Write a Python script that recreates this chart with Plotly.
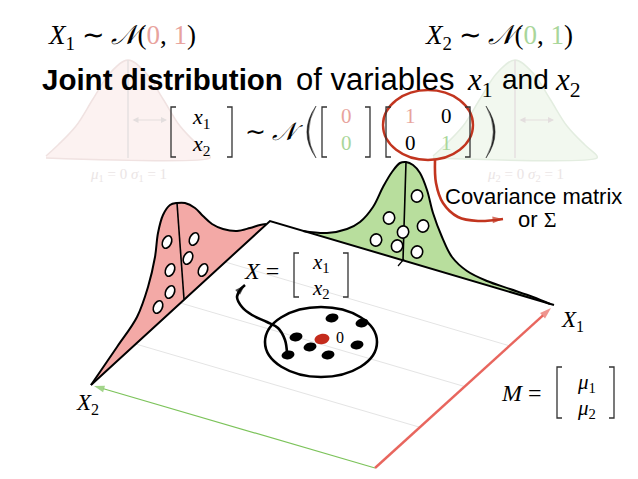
import math
import plotly.graph_objects as go

W, H = 638, 479
SERIF = "Liberation Serif"
SANS = "Liberation Sans"
PINK = "#e8a39d"
GREEN = "#a9d69a"
NB = "\u00a0"

# faded 1-D bells: offsets from centre / heights (pixels, y down)
BELL_CENTERS = [128, 515]
BELL_BASE = 158
BELL_DX = [-82, -70, -52, -35, -18, 0, 18, 35, 52, 70, 82]
BELL_Y = [156, 145, 126, 99, 73, 60, 73, 99, 126, 145, 156]
BELL_LABEL_X = [128, 525]
BELL_LABELS = ["<i>μ</i><sub>1</sub> = 0 <i>σ</i><sub>1</sub> = 1",
               "<i>μ</i><sub>2</sub> = 0 <i>σ</i><sub>2</sub> = 1"]

# floor parallelogram: X2 corner, back corner, X1 corner, front corner
FLOOR_X = [91, 270, 554, 375]
FLOOR_Y = [385, 221, 305, 468]
GRID_FRAC = [0.25, 0.5, 0.75]

# marginal of x2 (red) drawn on the left edge
RED_X = [91, 117, 137, 148, 155, 158, 163, 170, 177, 185, 195, 203, 212, 223, 237, 250, 260, 266]
RED_Y = [385, 347, 317, 287, 257, 233, 215, 205, 203, 203, 208, 216, 224, 229, 231, 228, 225, 224]
RED_MID = ([177, 184], [203, 299])
RED_PTS_X = [167, 194, 188, 170, 203, 170, 158]
RED_PTS_Y = [242, 239, 258, 270, 270, 292, 307]

# marginal of x1 (green) drawn on the back edge
GREEN_X = [303, 327, 347, 360, 373, 383, 392, 400, 406, 413, 420, 427, 433, 442, 452, 467, 487, 510, 533, 550]
GREEN_Y = [231, 233, 229, 222, 207, 187, 172, 163, 162, 165, 173, 190, 213, 237, 257, 271, 281, 289, 297, 304]
GREEN_MID = ([406, 403], [162, 260])
GREEN_PTS_X = [417, 389, 423, 403, 376, 397, 417]
GREEN_PTS_Y = [196, 218, 226, 232, 240, 246, 252]

# samples on the floor
DOT_X = [332, 362, 296, 310, 357, 288, 328]
DOT_Y = [318, 323, 337, 347, 345, 355, 355]
MEAN_DOT = (322, 339)

# curved arrows
X_ARROW_X = [287, 285, 278, 267, 252, 242, 237, 240, 245]
X_ARROW_Y = [353, 340, 328, 322, 315, 307, 297, 290, 285]
COV_ARROW_X = [435, 436, 443, 458, 478, 503]
COV_ARROW_Y = [160, 183, 203, 217, 221, 219]

MEAN = [0, 0]
COV = [[1, 0], [0, 1]]

fig = go.Figure()


def line(xs, ys, color, width, spline=False, fill=None, fillcolor=None, sizes=None):
    fig.add_trace(go.Scatter(
        x=xs, y=ys, mode="lines+markers" if sizes else "lines",
        line=dict(color=color, width=width, shape="spline" if spline else "linear"),
        fill=fill, fillcolor=fillcolor, hoverinfo="skip",
        marker=dict(symbol="arrow", size=sizes or 0, color=color, angleref="previous",
                    line=dict(width=0)),
    ))


# faded bells behind the title
bell_cols = [("#fcf2f1", "#f0e2e1"), ("#f2f8ef", "#e3ede0")]
for cx, (fc, lc) in zip(BELL_CENTERS, bell_cols):
    xs = [cx + d for d in BELL_DX]
    line(xs + [xs[-1], xs[0]], BELL_Y + [BELL_BASE, BELL_BASE], lc, 1.5,
         spline=True, fill="toself", fillcolor=fc)
    line([cx, cx], [60, BELL_BASE], "#e6e1e1", 1.5)

# floor grid
L, B, R, F = list(zip(FLOOR_X, FLOOR_Y))
for f in GRID_FRAC:
    x0 = L[0] + f * (B[0] - L[0]); y0 = L[1] + f * (B[1] - L[1])
    x1 = F[0] + f * (R[0] - F[0]); y1 = F[1] + f * (R[1] - F[1])
    line([x0, x1], [y0, y1], "#e4e4e4", 1)

# axis arrows
line([F[0], L[0] + 3], [F[1], L[1] + 1], "#7cc35a", 1.2, sizes=[0, 11])
line([F[0], R[0] - 3], [F[1], R[1] + 3], "#e8665e", 2.4, sizes=[0, 12])

# red marginal
line(RED_X, RED_Y, "black", 2, spline=True, fill="toself", fillcolor="#f3a9a6")
line(*RED_MID, "black", 1.6)

# green marginal
line(GREEN_X, GREEN_Y, "black", 2, spline=True, fill="toself", fillcolor="#b8de9d")
line([L[0], B[0], R[0]], [L[1], B[1], R[1]], "black", 2)
line(*GREEN_MID, "black", 1.6)
line([398, 404], [266, 259], "black", 1.2)

# arrows
line(X_ARROW_X, X_ARROW_Y, "black", 2.6, spline=True, sizes=[0] * 8 + [11])
line(COV_ARROW_X, COV_ARROW_Y, "#c2351f", 2.6, spline=True, sizes=[0] * 5 + [11])


def ellipse_path(cx, cy, rx, ry, deg=0.0):
    k = 0.5523
    t = math.radians(deg)
    c, s = math.cos(t), math.sin(t)

    def p(u, v):
        return "%.2f,%.2f" % (cx + u * c - v * s, cy + u * s + v * c)

    return ("M" + p(rx, 0)
            + " C" + p(rx, k * ry) + " " + p(k * rx, ry) + " " + p(0, ry)
            + " C" + p(-k * rx, ry) + " " + p(-rx, k * ry) + " " + p(-rx, 0)
            + " C" + p(-rx, -k * ry) + " " + p(-k * rx, -ry) + " " + p(0, -ry)
            + " C" + p(k * rx, -ry) + " " + p(rx, -k * ry) + " " + p(rx, 0) + " Z")


shapes = []


def ell(cx, cy, rx, ry, deg, fill, lc, lw):
    shapes.append(dict(type="path", xref="x", yref="y", path=ellipse_path(cx, cy, rx, ry, deg),
                       fillcolor=fill, line=dict(color=lc, width=lw)))


for x, y in zip(RED_PTS_X, RED_PTS_Y):
    ell(x, y, 4.3, 6.6, 25, "white", "black", 1.6)
for x, y in zip(GREEN_PTS_X, GREEN_PTS_Y):
    ell(x, y, 5.6, 6.2, 20, "white", "black", 1.6)

ell(321, 342, 56, 35, 0, "rgba(0,0,0,0)", "black", 2.6)
for x, y in zip(DOT_X, DOT_Y):
    ell(x, y, 6.5, 4.3, -12, "black", "black", 0)
ell(MEAN_DOT[0], MEAN_DOT[1], 7.5, 5.2, -12, "#c42b1c", "#c42b1c", 0)

# covariance highlight
ell(428, 125, 45, 35, 0, "rgba(0,0,0,0)", "#c2351f", 2.4)


def bracket(x, y0, y1, left=True, s=5):
    d = s if left else -s
    shapes.append(dict(type="path", xref="x", yref="y",
                       path="M%s,%s L%s,%s L%s,%s L%s,%s" % (x + d, y0, x, y0, x, y1, x + d, y1),
                       line=dict(color="#333333", width=1.3)))


def paren(x, y0, y1, left=True):
    d = -14 if left else 14
    ym = (y0 + y1) / 2
    shapes.append(dict(type="path", xref="x", yref="y",
                       path="M%s,%s Q%s,%s %s,%s Q%s,%s %s,%s Z" % (
                           x, y0, x + d * 1.3, ym, x, y1, x + d * 1.05, ym, x, y0),
                       fillcolor="#222222", line=dict(color="#222222", width=0.5)))


bracket(171, 107, 157); bracket(232, 107, 157, left=False)
bracket(322, 107, 157); bracket(370, 107, 157, left=False)
bracket(386, 107, 157); bracket(470, 107, 157, left=False)
paren(316, 106, 158); paren(486, 106, 158, left=False)
bracket(294, 253, 297); bracket(348, 253, 297, left=False)
bracket(557, 367, 418); bracket(614, 367, 418, left=False)

ann = []


def text(x, y, s, size=20, family=SERIF, color="black", xanchor="center"):
    ann.append(dict(x=x, y=y, xref="x", yref="y", text=s, showarrow=False,
                    xanchor=xanchor, yanchor="middle",
                    font=dict(size=size, family=family, color=color)))


def col(v, c):
    return "<span style='color:%s'>%s</span>" % (c, v)


# faded bell annotations
for cx, lx, lab in zip(BELL_CENTERS, BELL_LABEL_X, BELL_LABELS):
    text(lx, 175, lab, size=15, color="#ebe5e5")
    ann.append(dict(x=cx + 39, y=120, ax=cx + 3, ay=120, xref="x", yref="y", axref="x", ayref="y",
                    text="", showarrow=True, arrowhead=2, arrowside="end+start", arrowsize=1,
                    arrowwidth=1.2, arrowcolor="#e3dede"))

top = "<i>X</i><sub>%d</sub>" + NB + "∼" + NB + "<i>𝒩</i>(%s," + NB + "%s)"
text(46, 37, top % (1, col(0, PINK), col(1, PINK)), size=27, xanchor="left")
text(423, 37, top % (2, col(0, GREEN), col(1, GREEN)), size=27, xanchor="left")

# title line, pieces placed separately
text(40, 79, "<b>Joint distribution</b>", size=29.5, family=SANS, xanchor="left")
text(294, 79, "of variables", size=31, family=SANS, xanchor="left")
text(465, 82, "<i>x</i><sub>1</sub>", size=31, xanchor="left")
text(500, 79, "and", size=28, family=SANS, xanchor="left")
text(553, 82, "<i>x</i><sub>2</sub>", size=31, xanchor="left")

text(201, 118, "<i>x</i><sub>1</sub>", size=22)
text(201, 145, "<i>x</i><sub>2</sub>", size=22)
text(274, 131, "∼ <i>𝒩</i>", size=25)
text(346, 116, col(MEAN[0], PINK), size=21)
text(346, 143, col(MEAN[1], GREEN), size=21)
cov_cols = [[PINK, "black"], ["black", GREEN]]
for i in range(2):
    for j in range(2):
        text(410 + 36 * j, 116 + 27 * i, col(COV[i][j], cov_cols[i][j]), size=21)

text(443, 196, "Covariance matrix", size=22, family=SANS, xanchor="left")
text(516, 219, "or <span style='font-family:%s'>Σ</span>" % SERIF, size=22, family=SANS, xanchor="left")

text(261, 271, "<i>X</i> =", size=24)
text(321, 263, "<i>x</i><sub>1</sub>", size=21)
text(321, 289, "<i>x</i><sub>2</sub>", size=21)
text(521, 393, "<i>M</i> =", size=24)
text(586, 383, "<i>μ</i><sub>1</sub>", size=21)
text(586, 409, "<i>μ</i><sub>2</sub>", size=21)
text(340, 337, "0", size=16)
text(572, 321, "<i>X</i><sub>1</sub>", size=23)
text(87, 404, "<i>X</i><sub>2</sub>", size=23)

fig.update_layout(
    width=W, height=H, autosize=False,
    margin=dict(l=0, r=0, t=0, b=0),
    paper_bgcolor="white", plot_bgcolor="white",
    showlegend=False,
    xaxis=dict(range=[0, W], visible=False, fixedrange=True),
    yaxis=dict(range=[H, 0], visible=False, fixedrange=True),
    shapes=shapes, annotations=ann,
)

fig.write_html("out.html", config={"displayModeBar": False},
               post_script="document.body.style.margin = '0';")
